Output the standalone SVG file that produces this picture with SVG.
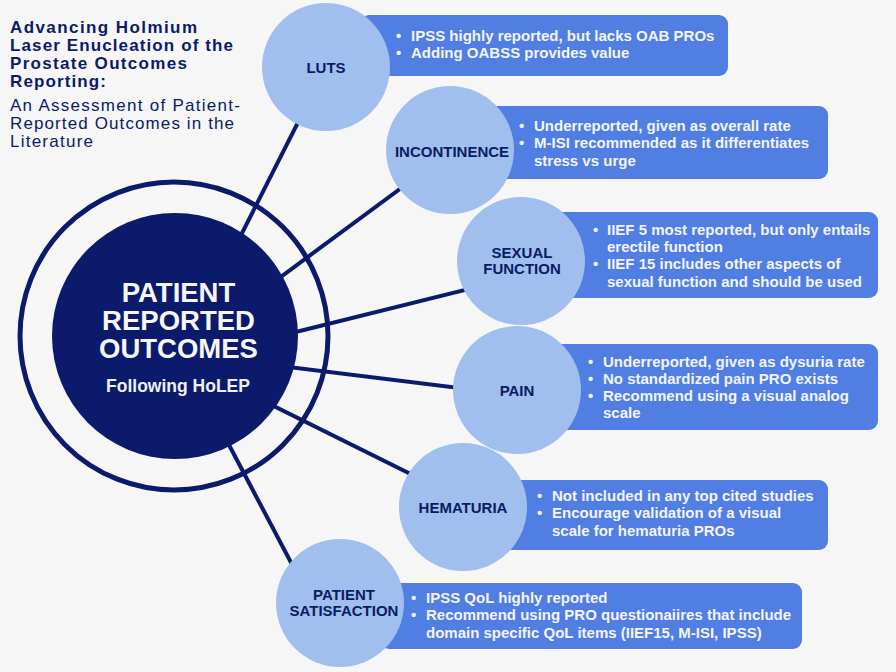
<svg xmlns="http://www.w3.org/2000/svg" width="896" height="672" viewBox="0 0 896 672">
<style>
.bg{fill:#f6f6f6}
.box{fill:#517ee3}
.sat{fill:#a0bfef}
.lbl{font-family:"Liberation Sans",Arial,sans-serif;font-weight:bold;font-size:15px;fill:#0c1a63;text-anchor:middle}
.txt{font-family:"Liberation Sans",Arial,sans-serif;font-weight:bold;font-size:15px;fill:#f3f5fb}
.conn{stroke:#0b1a6a;stroke-width:4;fill:none;stroke-linecap:butt}
.ttl{font-family:"Liberation Sans",Arial,sans-serif;font-weight:bold;font-size:17px;fill:#0b1a6a}
.sub{font-family:"Liberation Sans",Arial,sans-serif;font-size:17px;fill:#0b1a6a}
.ctr{font-family:"Liberation Sans",Arial,sans-serif;font-weight:bold;font-size:27.5px;fill:#f6f6f6;text-anchor:middle}
</style>
<rect class="bg" x="0" y="0" width="896" height="672"/>

<g id="title">
<text class="ttl" x="10" y="33" textLength="187">Advancing Holmium</text>
<text class="ttl" x="10" y="51" textLength="223">Laser Enucleation of the</text>
<text class="ttl" x="10" y="69" textLength="177">Prostate Outcomes</text>
<text class="ttl" x="10" y="87" textLength="96">Reporting:</text>
<text class="sub" x="10" y="111" textLength="230">An Assessment of Patient-</text>
<text class="sub" x="10" y="129" textLength="224">Reported Outcomes in the</text>
<text class="sub" x="10" y="147" textLength="83">Literature</text>
</g>

<g id="center-ring">
<circle cx="174" cy="336" r="154" fill="none" stroke="#0b1a6a" stroke-width="5"/>
</g>

<g id="connectors">
<line class="conn" x1="190" y1="336" x2="326" y2="67"/>
<line class="conn" x1="175" y1="355" x2="450" y2="152"/>
<line class="conn" x1="175" y1="362" x2="521" y2="276"/>
<line class="conn" x1="175" y1="353" x2="517" y2="395"/>
<line class="conn" x1="175" y1="357" x2="463" y2="500"/>
<line class="conn" x1="190" y1="371" x2="315" y2="608"/>
</g>

<g id="center">
<circle cx="175" cy="336" r="123" fill="#0b1a6a"/>
<text class="ctr" x="178.5" y="302">PATIENT</text>
<text class="ctr" x="178.5" y="330">REPORTED</text>
<text class="ctr" x="178.5" y="358">OUTCOMES</text>
<text class="ctr" x="178" y="392" style="font-size:17.5px;fill:#eef0f6">Following HoLEP</text>
</g>

<g id="luts">
<rect class="box" x="360" y="15" width="368" height="61" rx="9"/>
<circle class="sat" cx="326" cy="67" r="64"/>
<text class="lbl" x="326" y="73">LUTS</text>
<text class="txt" x="396" y="41">•</text>
<text class="txt" x="411" y="41">IPSS highly reported, but lacks OAB PROs</text>
<text class="txt" x="396" y="58">•</text>
<text class="txt" x="411" y="58">Adding OABSS provides value</text>
</g>

<g id="incontinence">
<rect class="box" x="480" y="106" width="348" height="73" rx="9"/>
<circle class="sat" cx="450" cy="150" r="64"/>
<text class="lbl" x="452" y="157">INCONTINENCE</text>
<text class="txt" x="519" y="131">•</text>
<text class="txt" x="534" y="131">Underreported, given as overall rate</text>
<text class="txt" x="519" y="148">•</text>
<text class="txt" x="534" y="148">M-ISI recommended as it differentiates</text>
<text class="txt" x="534" y="166">stress vs urge</text>
</g>

<g id="sexual-function">
<rect class="box" x="550" y="212" width="328" height="86" rx="9"/>
<circle class="sat" cx="521" cy="261" r="64"/>
<text class="lbl" x="522" y="258">SEXUAL</text>
<text class="lbl" x="522" y="274">FUNCTION</text>
<text class="txt" x="593" y="235">•</text>
<text class="txt" x="607" y="235">IIEF 5 most reported, but only entails</text>
<text class="txt" x="607" y="252">erectile function</text>
<text class="txt" x="593" y="269">•</text>
<text class="txt" x="607" y="269">IIEF 15 includes other aspects of</text>
<text class="txt" x="607" y="287">sexual function and should be used</text>
</g>

<g id="pain">
<rect class="box" x="550" y="344" width="328" height="86" rx="9"/>
<circle class="sat" cx="517" cy="390" r="64"/>
<text class="lbl" x="517" y="396">PAIN</text>
<text class="txt" x="588" y="367">•</text>
<text class="txt" x="603" y="367">Underreported, given as dysuria rate</text>
<text class="txt" x="588" y="384">•</text>
<text class="txt" x="603" y="384">No standardized pain PRO exists</text>
<text class="txt" x="588" y="401">•</text>
<text class="txt" x="603" y="401">Recommend using a visual analog</text>
<text class="txt" x="603" y="418">scale</text>
</g>

<g id="hematuria">
<rect class="box" x="490" y="480" width="338" height="70" rx="9"/>
<circle class="sat" cx="463" cy="507" r="64"/>
<text class="lbl" x="463" y="513">HEMATURIA</text>
<text class="txt" x="537" y="501">•</text>
<text class="txt" x="552" y="501">Not included in any top cited studies</text>
<text class="txt" x="537" y="518">•</text>
<text class="txt" x="552" y="518">Encourage validation of a visual</text>
<text class="txt" x="552" y="536">scale for hematuria PROs</text>
</g>

<g id="patient-satisfaction">
<rect class="box" x="380" y="583" width="422" height="66" rx="9"/>
<circle class="sat" cx="340" cy="603" r="64"/>
<text class="lbl" x="344" y="600">PATIENT</text>
<text class="lbl" x="344" y="616">SATISFACTION</text>
<text class="txt" x="411" y="603">•</text>
<text class="txt" x="426" y="603">IPSS QoL highly reported</text>
<text class="txt" x="411" y="620">•</text>
<text class="txt" x="426" y="620">Recommend using PRO questionaiires that include</text>
<text class="txt" x="426" y="638">domain specific QoL items (IIEF15, M-ISI, IPSS)</text>
</g>
</svg>
